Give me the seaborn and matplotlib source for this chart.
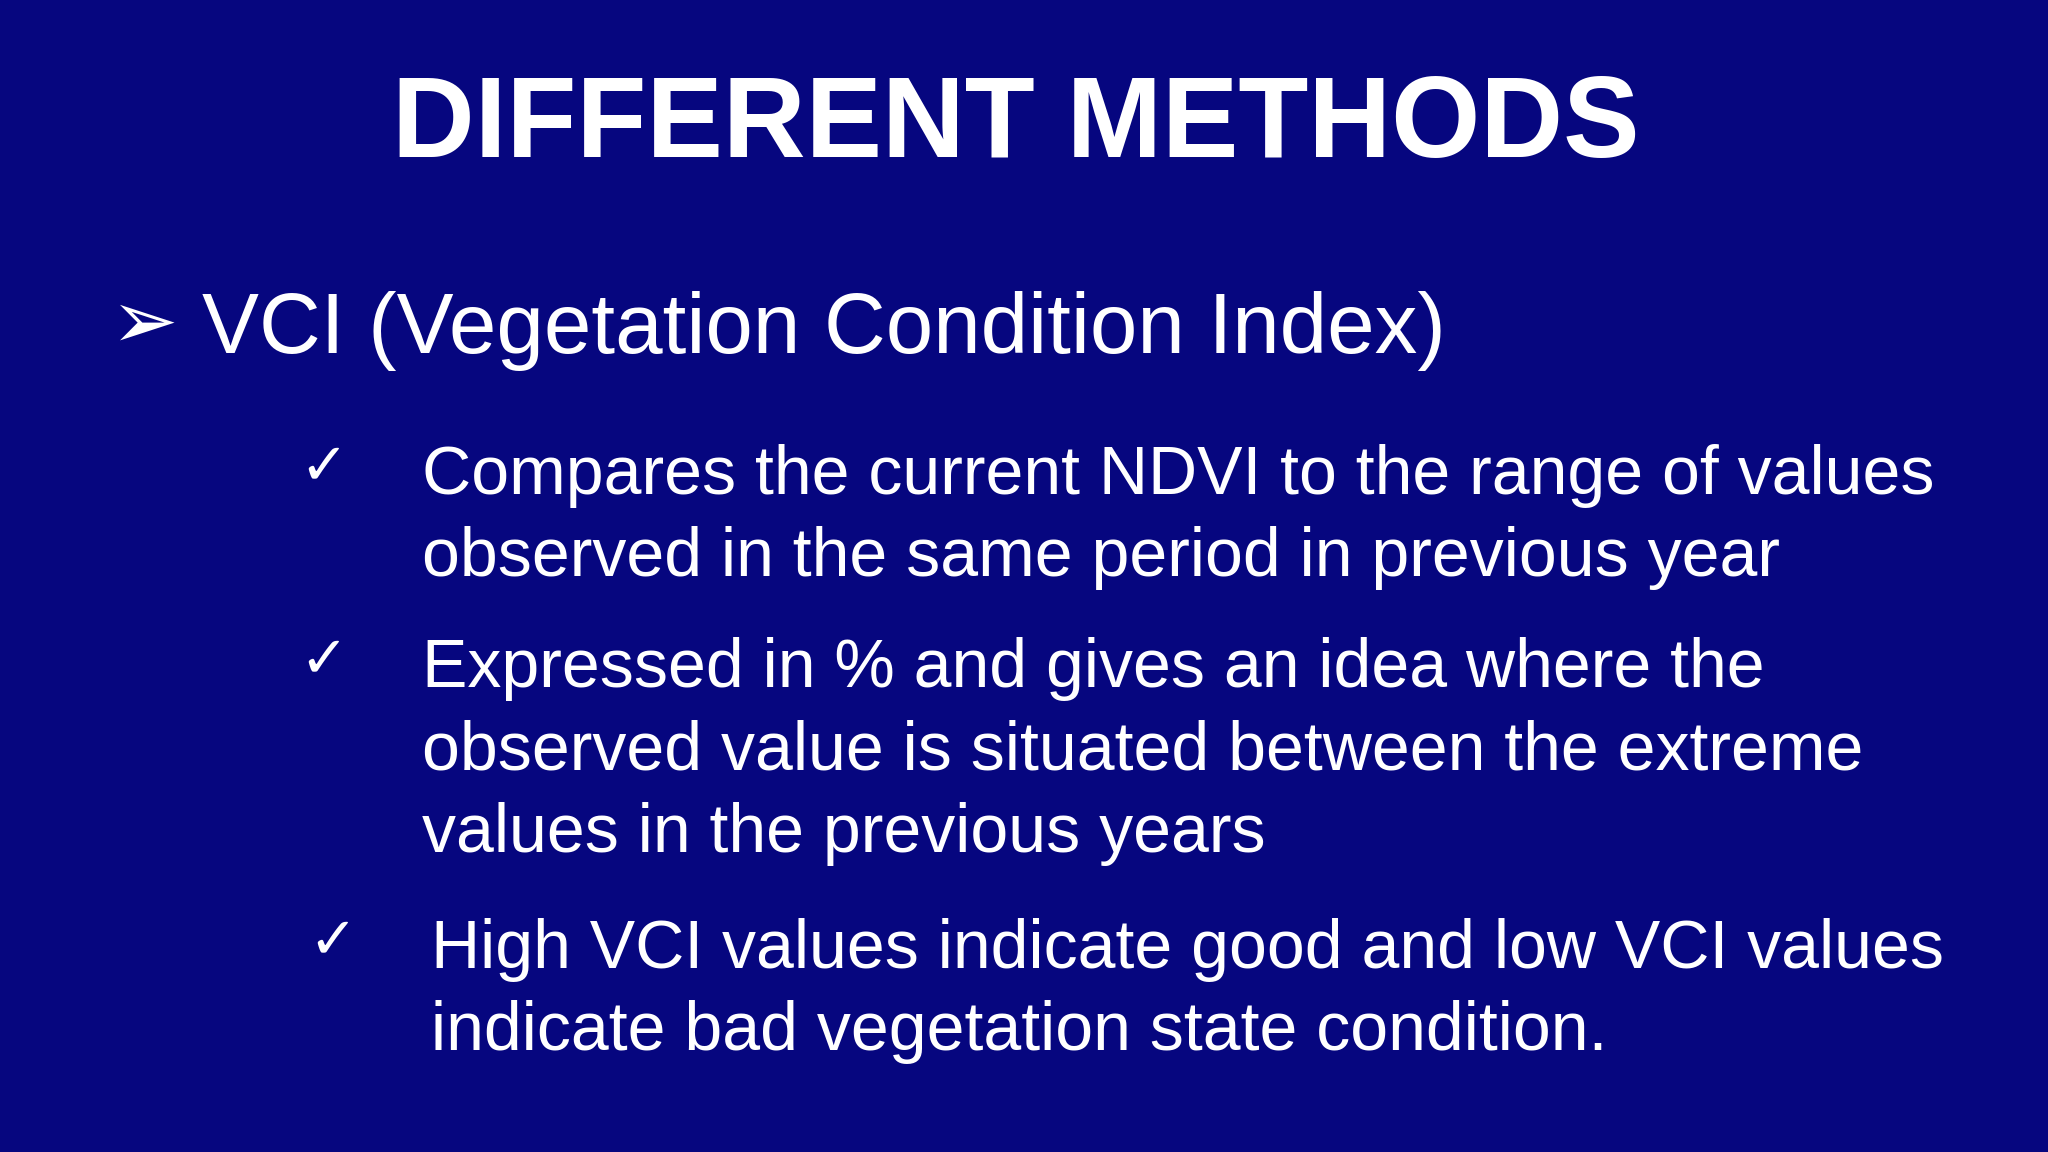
import matplotlib
matplotlib.use("Agg")
import matplotlib.pyplot as plt
import seaborn as sns

# slide text
title = "DIFFERENT METHODS"
heading = "VCI (Vegetation Condition Index)"
bullets = [
    ["Compares the current NDVI to the range of values",
     "observed in the same period in previous year"],
    ["Expressed in % and gives an idea where the",
     "observed value is situated between the extreme",
     "values in the previous years"],
    ["High VCI values indicate good and low VCI values",
     "indicate bad vegetation state condition."],
]

sns.set_theme(style="white")
plt.rcParams['font.family'] = ['Liberation Sans', 'DejaVu Sans']
bg = "#06067f"

fig = plt.figure(figsize=(20.48, 11.52), dpi=100, facecolor=bg)
W, H = 1568, 882  # reference layout units

def put(x, y, s, size, **kw):
    fig.text(x / W, 1 - y / H, s, color="white", fontsize=size, va="baseline", **kw)

put(778, 120, title, 82.5, ha="center", fontweight="bold")
put(84, 266, "➢", 58, family=['DejaVu Sans'])
put(155, 270, heading, 61.5)

check_x = [229, 229, 236]
text_x = [323, 323, 330]
starts = [378, 526, 741]
line_gap = 63
for i, lines in enumerate(bullets):
    put(check_x[i], starts[i] - 8, "✓", 42, family=['DejaVu Sans'])
    for j, ln in enumerate(lines):
        put(text_x[i], starts[i] + j * line_gap, ln, 49)

fig.savefig("out.png", dpi=100, facecolor=bg)
